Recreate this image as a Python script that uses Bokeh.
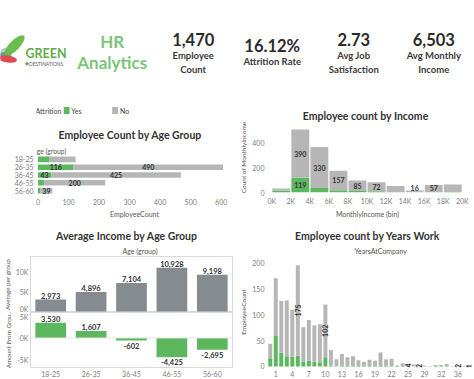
import math
from bokeh.plotting import figure
from bokeh.layouts import column, row
from bokeh.models import ColumnDataSource, Range1d, FactorRange, Span, FixedTicker
from bokeh.core.properties import value
from bokeh.embed import file_html
from bokeh.resources import INLINE

FONT = "Lato"
GREEN = "#5db75e"
GRAY = "#b6b6b6"
DARK = "#858b8f"
TXT = "#333333"
TICK = "#7d7d7d"

# ---------------- data ----------------
kpi_values = ["1,470", "16.12%", "2.73", "6,503"]
kpi_labels = [["Employee", "Count"], ["Attrition Rate"], ["Avg Job", "Satisfaction"], ["Avg Monthly", "Income"]]

age_groups = ["18-25", "26-35", "36-45", "46-55", "56-60"]
age_yes = [38, 116, 43, 20, 8]
age_no = [85, 490, 425, 200, 39]
age_show_yes = [False, True, True, False, False]
age_show_no = [False, True, True, True, True]

income_bin_start = [0, 2000, 4000, 6000, 8000, 10000, 12000, 14000, 16000, 18000]
income_ticks = [0, 2000, 4000, 6000, 8000, 10000, 12000, 14000, 16000, 18000, 20000]
income_tick_labels = ["0K", "2K", "4K", "6K", "8K", "10K", "12K", "14K", "16K", "18K", "20K"]
income_yes = [14, 119, 37, 19, 13, 11, 3, 0, 3, 5]
income_no = [19, 390, 330, 157, 85, 72, 49, 16, 57, 59]
income_show_yes = [False, True, False, False, False, False, False, False, False, False]
income_show_no = [False, True, True, True, True, True, False, True, True, False]

avg_income = [2973, 4896, 7104, 10928, 9198]
avg_diff = [3530, 1607, -602, -4425, -2695]

years = list(range(0, 28)) + [29, 30, 31, 32, 33, 34, 36, 37, 40]
years_total = [44, 171, 127, 128, 110, 196, 76, 90, 80, 82, 120, 32, 14, 24, 18, 20, 12, 9, 13, 11,
               27, 14, 15, 2, 6, 4, 4, 2, 2, 1, 3, 3, 5, 1, 2, 1, 1]
years_yes = [16, 59, 27, 20, 19, 21, 9, 11, 9, 8, 18, 2, 0, 2, 2, 1, 1, 1, 1, 1,
             1, 1, 1, 1, 1, 0, 0, 0, 0, 0, 1, 1, 1, 0, 0, 0, 0]
years_labeled = [5, 10, 25, 27, 36, 40]
years_tick_every = 3


# ---------------- helpers ----------------
def panel(x0, y0, w, h):
    """A plain drawing area whose data units are page pixels (used for titles / headers)."""
    p = figure(width=w, height=h, x_range=Range1d(x0, x0 + w), y_range=Range1d(y0 + h, y0),
               output_backend="svg", toolbar_location=None, x_axis_location=None,
               y_axis_location=None, min_border=0)
    p.outline_line_color = None
    p.xgrid.visible = False
    p.ygrid.visible = False
    return p


def txt(p, x, y, t, size="7px", color=TXT, style="normal", align="center", baseline="middle"):
    p.text(x=x, y=y, text=t, text_font=value(FONT), text_font_size=size, text_color=color,
           text_font_style=style, text_align=align, text_baseline=baseline)


def make_fig(w, h, xr, yr, mb, xloc="below", yloc="left"):
    p = figure(width=w, height=h, x_range=xr, y_range=yr, output_backend="svg",
               toolbar_location=None, x_axis_location=xloc, y_axis_location=yloc,
               min_border_top=mb[0], min_border_right=mb[1], min_border_bottom=mb[2],
               min_border_left=mb[3])
    p.outline_line_color = None
    p.xgrid.visible = False
    p.ygrid.visible = False
    return p


def style_axis(ax, standoff=2, label_size="7px"):
    ax.axis_line_color = None
    ax.major_tick_line_color = None
    ax.minor_tick_line_color = None
    ax.major_tick_out = 0
    ax.major_tick_in = 0
    ax.minor_tick_out = 0
    ax.minor_tick_in = 0
    ax.major_label_text_font = FONT
    ax.major_label_text_font_size = "7px"
    ax.major_label_text_color = TICK
    ax.major_label_standoff = standoff
    ax.axis_label_text_font = FONT
    ax.axis_label_text_font_size = label_size
    ax.axis_label_text_font_style = "normal"
    ax.axis_label_text_color = "#555555"
    ax.axis_label_standoff = 2


# ---------------- header ----------------
H = panel(0, 0, 474, 100)
H.ellipse(x=[5, 4], y=[52, 55], width=[16, 14], height=[9, 7], angle=[0.5, 0.2],
          fill_color=["#a9cbc7", "#5f9e95"], line_color=None, fill_alpha=0.95)
H.ellipse(x=[14], y=[45], width=[27], height=[10], angle=[0.8], fill_color="#6cbd4f", line_color=None)
H.ellipse(x=[7], y=[58.5], width=[19], height=[7], angle=[-0.15], fill_color="#df4a50", line_color=None)
txt(H, [25], [53.3], ["GREEN"], "12.5px", "#62ad4a", "bold", "left")
H.scatter(x=[26.5], y=[63.3], size=2.5, color="#62ad4a")
txt(H, [28.5], [63.5], ["DESTINATIONS"], "4.8px", "#555555", "normal", "left")
txt(H, [111.7, 111.7], [40.7, 62.3], ["HR", "Analytics"], "17px", "#7cc47a", "bold")
kpi_x = [192.7, 271.7, 353.3, 433.3]
kpi_vy = [39, 45, 39, 39]
txt(H, kpi_x, kpi_vy, kpi_values, "16.5px", "#2b2b2b", "bold")
lx, ly, lt = [], [], []
for xx, vy, lines in zip(kpi_x, kpi_vy, kpi_labels):
    start = vy + 16.3
    for i, t in enumerate(lines):
        lx.append(xx)
        ly.append(start + i * 13.3)
        lt.append(t)
txt(H, lx, ly, lt, "9.5px", "#3a3a3a", "bold")

# ---------------- age chart ----------------
AH = panel(0, 100, 237, 55)
txt(AH, [30], [110], ["Attrition"], "7px", "#444444", "normal", "right")
AH.rect(x=[36.5, 95], y=[110, 110], width=7, height=7, fill_color=[GREEN, GRAY], line_color=None)
txt(AH, [42, 101], [110, 110], ["Yes", "No"], "7px", "#444444", "normal", "left")
txt(AH, [113.3], [134.3], ["Employee Count by Age Group"], "10.5px", TXT, "bold")
txt(AH, [36], [150.3], ["Age (group)"], "6.8px", "#555555", "normal", "right")

A = make_fig(237, 65, Range1d(-5, 637), FactorRange(*reversed(age_groups)), (0, 5, 25, 36))
age_total = [a + b for a, b in zip(age_yes, age_no)]
srcA = ColumnDataSource(dict(g=age_groups, yes=age_yes, tot=age_total))
A.hbar(y="g", left=0, right="yes", height=0.72, source=srcA, fill_color=GREEN, line_color=None)
A.hbar(y="g", left="yes", right="tot", height=0.72, source=srcA, fill_color=GRAY, line_color=None)
ay = [g for g, s in zip(age_groups, age_show_yes) if s]
ax_ = [v / 2 for v, s in zip(age_yes, age_show_yes) if s]
at = [str(v) for v, s in zip(age_yes, age_show_yes) if s]
txt(A, ax_, ay, at, "7px", TXT, "bold")
ny = [g for g, s in zip(age_groups, age_show_no) if s]
nx = [a + b / 2 for a, b, s in zip(age_yes, age_no, age_show_no) if s]
nt = [str(b) for b, s in zip(age_no, age_show_no) if s]
txt(A, nx, ny, nt, "7px", TXT, "bold")
style_axis(A.xaxis[0], 4)
style_axis(A.yaxis[0], 3)
A.xaxis[0].ticker = FixedTicker(ticks=[0, 100, 200, 300, 400, 500, 600])
A.xaxis[0].axis_label = "EmployeeCount"

# ---------------- income chart ----------------
IH = panel(237, 100, 237, 22)
txt(IH, [353.3], [115], ["Employee count by Income"], "10.5px", TXT, "bold")

I = make_fig(237, 98, Range1d(-550, 20650), Range1d(0, 566), (0, 6, 25, 27))
inc_x = [s + 1000 for s in income_bin_start]
inc_tot = [a + b for a, b in zip(income_yes, income_no)]
srcI = ColumnDataSource(dict(x=inc_x, yes=income_yes, tot=inc_tot))
I.vbar(x="x", bottom=0, top="yes", width=1880, source=srcI, fill_color=GREEN, line_color=None)
I.vbar(x="x", bottom="yes", top="tot", width=1880, source=srcI, fill_color=GRAY, line_color=None)
tx = [x for x, s in zip(inc_x, income_show_yes) if s]
ty = [v / 2 for v, s in zip(income_yes, income_show_yes) if s]
tt = [str(v) for v, s in zip(income_yes, income_show_yes) if s]
txt(I, tx, ty, tt, "7px", TXT, "bold")
tx = [x for x, s in zip(inc_x, income_show_no) if s]
ty = [max(a + b / 2, 35) for a, b, s in zip(income_yes, income_no, income_show_no) if s]
tt = [str(b) for b, s in zip(income_no, income_show_no) if s]
txt(I, tx, ty, tt, "7px", TXT, "bold")
style_axis(I.xaxis[0], 4)
style_axis(I.yaxis[0], 2, "6.5px")
I.xaxis[0].ticker = FixedTicker(ticks=income_ticks)
I.xaxis[0].major_label_overrides = {t: l for t, l in zip(income_ticks, income_tick_labels)}
I.xaxis[0].axis_label = "MonthlyIncome (bin)"
I.yaxis[0].ticker = FixedTicker(ticks=[0, 200, 400])
I.yaxis[0].axis_label = "Count of MonthlyIncome"

# ---------------- average income chart (two panels) ----------------
TH = panel(0, 220, 237, 36)
txt(TH, [113], [235.7], ["Average Income by Age Group"], "10.5px", TXT, "bold")
txt(TH, [128.5], [250.8], ["Age (group)"], "7px", "#555555")

T = make_fig(237, 56, FactorRange(*age_groups), Range1d(-250, 13750), (0, 5, 0, 25), xloc=None)
T.outline_line_color = "#d9d9d9"
srcT = ColumnDataSource(dict(g=age_groups, v=avg_income, t=[f"{v:,}" for v in avg_income]))
T.vbar(x="g", top="v", bottom=0, width=0.76, source=srcT, fill_color=DARK, line_color=None)
T.text(x="g", y="v", text="t", source=srcT, text_font=value(FONT), text_font_size="7.5px",
       text_font_style="bold", text_color=TXT, text_align="center", text_baseline="bottom", y_offset=-1)
style_axis(T.yaxis[0], 2, "6.3px")
T.yaxis[0].ticker = FixedTicker(ticks=[0, 5000, 10000])
T.yaxis[0].major_label_overrides = {0: "0K", 5000: "5K", 10000: "10K"}
T.yaxis[0].axis_label = "Average per group"

B = make_fig(237, 67, FactorRange(*age_groups), Range1d(-6780, 5860), (0, 5, 12, 25))
B.outline_line_color = "#d9d9d9"
B.add_layout(Span(location=0, dimension="width", line_color="#e2e2e2", line_width=1))
B.vbar(x=age_groups, top=avg_diff, bottom=0, width=0.76, fill_color=GREEN, line_color=None)
pos = [i for i, v in enumerate(avg_diff) if v >= 0]
neg = [i for i, v in enumerate(avg_diff) if v < 0]
B.text(x=[age_groups[i] for i in pos], y=[avg_diff[i] for i in pos], text=[f"{avg_diff[i]:,}" for i in pos],
       text_font=value(FONT), text_font_size="7.5px", text_font_style="bold", text_color=TXT,
       text_align="center", text_baseline="bottom", y_offset=-1)
B.text(x=[age_groups[i] for i in neg], y=[avg_diff[i] for i in neg], text=[f"{avg_diff[i]:,}" for i in neg],
       text_font=value(FONT), text_font_size="7.5px", text_font_style="bold", text_color=TXT,
       text_align="center", text_baseline="top", y_offset=2)
style_axis(B.xaxis[0], 3)
style_axis(B.yaxis[0], 2, "6.3px")
B.yaxis[0].ticker = FixedTicker(ticks=[-5000, 0, 5000])
B.yaxis[0].major_label_overrides = {-5000: "-5K", 0: "0K", 5000: "5K"}
B.yaxis[0].axis_label = "Amount From Grou.."

# ---------------- years chart ----------------
YH = panel(237, 220, 237, 36)
txt(YH, [353.3], [235.7], ["Employee count by Years Work"], "10.5px", TXT, "bold")
txt(YH, [368.5], [250.8], ["YearsAtCompany"], "7px", "#555555")

Y = make_fig(237, 123, Range1d(-0.5, len(years) - 0.5), Range1d(-2, 213), (0, 3, 12, 29))
idx = list(range(len(years)))
srcY = ColumnDataSource(dict(x=idx, yes=years_yes, tot=years_total))
Y.vbar(x="x", bottom=0, top="yes", width=0.72, source=srcY, fill_color=GREEN, line_color=None)
Y.vbar(x="x", bottom="yes", top="tot", width=0.72, source=srcY, fill_color=GRAY, line_color=None)
lab_i = [years.index(y) for y in years_labeled]
Y.text(x=lab_i, y=[(years_yes[i] + years_total[i]) / 2 for i in lab_i],
       text=[str(years_total[i] - years_yes[i]) for i in lab_i], angle=math.pi / 2,
       text_font=value(FONT), text_font_size="7px", text_font_style="bold", text_color=TXT,
       text_align="center", text_baseline="middle")
style_axis(Y.xaxis[0], 3)
style_axis(Y.yaxis[0], 3, "6.5px")
tick_idx = list(range(1, len(years), years_tick_every))
Y.xaxis[0].ticker = FixedTicker(ticks=tick_idx)
Y.xaxis[0].major_label_overrides = {i: str(years[i]) for i in tick_idx}
Y.yaxis[0].ticker = FixedTicker(ticks=[0, 50, 100, 150, 200])
Y.yaxis[0].axis_label = "EmployeeCount"

layout = column(
    H,
    row(column(AH, A), column(IH, I)),
    row(column(TH, T, B), column(YH, Y)),
)
open("out.html", "w").write(file_html(layout, INLINE))
